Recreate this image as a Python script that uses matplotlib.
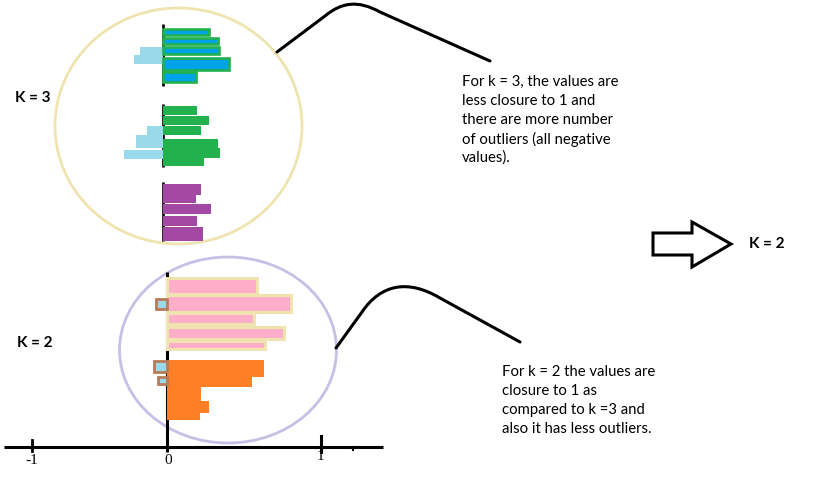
import matplotlib
matplotlib.use("Agg")
import matplotlib.pyplot as plt
from matplotlib.patches import Ellipse, Polygon, PathPatch
from matplotlib.path import Path

# silhouette widths (one bar per drawn row)
k3_c1_vals = [0.297, 0.355, 0.362, 0.427, 0.212]
k3_c1_neg = [-0.149, -0.188]
k3_c2_vals = [0.221, 0.299, 0.247, 0.357, 0.370, 0.266]
k3_c2_neg = [-0.104, -0.175, -0.253]
k3_c3_vals = [0.247, 0.214, 0.312, 0.221, 0.260]
k2_c1_vals = [0.59, 0.81, 0.565, 0.765, 0.64]
k2_c1_neg = [-0.07]
k2_c2_vals = [0.633, 0.555, 0.222, 0.276, 0.217]
k2_c2_neg = [-0.078, -0.053]

tick_labels = ["-1", "0", "1"]
note_k3 = ["For k = 3, the values are", "less closure to 1 and",
           "there are more number", "of outliers (all negative", "values)."]
note_k2 = ["For k = 2 the values are", "closure to 1 as",
           "compared to k =3 and", "also it has less outliers."]

# layout: row extents in pixels (top, bottom)
rows_k3_c1 = [(29, 35.4), (38, 44.4), (47, 54.4), (58.3, 69.7), (72.3, 81.7)]
rows_k3_c1_neg = [(47, 55), (55, 64)]
rows_k3_c2 = [(106, 115), (116, 125), (125.7, 135), (139, 148.3), (148.3, 157.7), (157.7, 165.7)]
rows_k3_c2_neg = [(126, 135), (135, 147.7), (150, 159)]
rows_k3_c3 = [(184, 195), (193.3, 203), (204, 214), (216, 226), (227, 241)]
rows_k2_c1 = [(277.5, 294), (295.3, 312.5), (313, 323.5), (326.5, 338.5), (340.7, 349.3)]
rows_k2_c1_neg = [(299.3, 309.3)]
rows_k2_c2 = [(360, 376.7), (376.7, 386.7), (386.7, 400.7), (400.7, 412.7), (412.7, 420)]
rows_k2_c2_neg = [(361, 371.7), (377, 384)]

W, H = 818, 493
ZERO_PX, UNIT_PX = 166.5, 154.0
K3_SHIFT = -3.5 / UNIT_PX

GREEN = "#22b14c"
BLUE = "#00a2e8"
TURQ = "#99d9ea"
PURPLE = "#a349a4"
PINK = "#ffaec9"
CREAM = "#efe4b0"
ORANGE = "#ff7f27"
BROWN = "#b97a57"
LAVENDER = "#c8bfe7"

fig = plt.figure(figsize=(W / 100, H / 100), dpi=100)
ax = fig.add_axes([0, 0, 1, 1])
ax.set_xlim(0, W)
ax.set_ylim(H, 0)
ax.axis("off")

axb = fig.add_axes([0, 0, 1, 1])
axb.set_xlim(-ZERO_PX / UNIT_PX, (W - ZERO_PX) / UNIT_PX)
axb.set_ylim(H, 0)
axb.patch.set_alpha(0)
axb.axis("off")


def bars(vals, rows, left=0.0, face=GREEN, edge=None, lw=0, z=3):
    ys = [(a + b) / 2 for a, b in rows]
    hs = [b - a for a, b in rows]
    axb.barh(ys, vals, height=hs, left=left, color=face,
             edgecolor=edge if edge else face, linewidth=lw, zorder=z)


def callout(pts):
    codes = [Path.MOVETO, Path.LINETO, Path.CURVE4, Path.CURVE4, Path.CURVE4, Path.LINETO]
    ax.add_patch(PathPatch(Path(pts, codes), fill=False, ec="black", lw=2.2,
                           capstyle="round", joinstyle="round"))


# zero lines
for top, bot in [(24, 86), (104, 167), (182, 241)]:
    axb.vlines(K3_SHIFT, top, bot, color="black", lw=1.9, zorder=2)
axb.vlines(0, 272, 452, color="black", lw=2.2, zorder=2)

# k = 3
bars(k3_c1_neg, rows_k3_c1_neg, left=K3_SHIFT, face=TURQ)
bars(k3_c1_vals, rows_k3_c1, left=K3_SHIFT, face=BLUE, edge=GREEN, lw=1.9)
bars(k3_c2_neg, rows_k3_c2_neg, left=K3_SHIFT, face=TURQ)
bars(k3_c2_vals, rows_k3_c2, left=K3_SHIFT, face=GREEN)
bars(k3_c3_vals, rows_k3_c3, left=K3_SHIFT, face=PURPLE)

# k = 2
bars(k2_c1_vals, rows_k2_c1, face=PINK, edge=CREAM, lw=2.2)
bars(k2_c1_neg, rows_k2_c1_neg, face=TURQ, edge=BROWN, lw=2.0, z=4)
bars(k2_c2_vals, rows_k2_c2, face=ORANGE)
bars(k2_c2_neg, rows_k2_c2_neg, face=TURQ, edge=BROWN, lw=2.0, z=4)

# circles round the two plots
ax.add_patch(Ellipse((178.5, 126), 247, 236, fill=False, ec=CREAM, lw=2.0, zorder=1))
ax.add_patch(Ellipse((228, 350), 217, 186, fill=False, ec=LAVENDER, lw=2.0, zorder=1))

# number line
ax.plot([4, 383], [447, 447], color="black", lw=2.2, solid_capstyle="butt")
tick_px = [31.5, 166.5, 320.5]
ax.plot([31.5, 31.5], [440, 451], color="black", lw=2.0)
ax.plot([320.5, 320.5], [436, 452], color="black", lw=2.2)
ax.plot([353, 353], [447, 450], color="black", lw=1.5)
for x, y, lab in zip(tick_px, [461, 460, 457], tick_labels):
    ax.text(x + (2 if lab == "0" else 0), y, lab, family="Liberation Serif",
            fontsize=11, ha="center", va="center")

# callout curves
callout([(277, 52), (325, 16), (342, 2), (358, 0), (380, 12), (490, 61)])
callout([(336, 348), (362, 312), (381, 284), (408, 279), (440, 298), (520, 342)])

# arrow
ax.add_patch(Polygon([(653, 233), (692, 233), (692, 222), (731, 244), (692, 267),
                      (692, 255), (653, 255)], closed=True, fill=False,
                     ec="black", lw=2.2, joinstyle="miter"))

# labels
ax.text(15, 98, "K = 3", family="Lato", fontweight="bold", fontsize=11, va="center")
ax.text(17, 343, "K = 2", family="Lato", fontweight="bold", fontsize=11, va="center")
ax.text(749, 244, "K = 2", family="Lato", fontweight="bold", fontsize=11, va="center")

for i, line in enumerate(note_k3):
    ax.text(462, 82 + 19 * i, line, family="Lato", fontsize=10.7, va="center")
for i, line in enumerate(note_k2):
    ax.text(502, 372 + 19 * i, line, family="Lato", fontsize=10.7, va="center")

fig.savefig("out.png", dpi=100)
